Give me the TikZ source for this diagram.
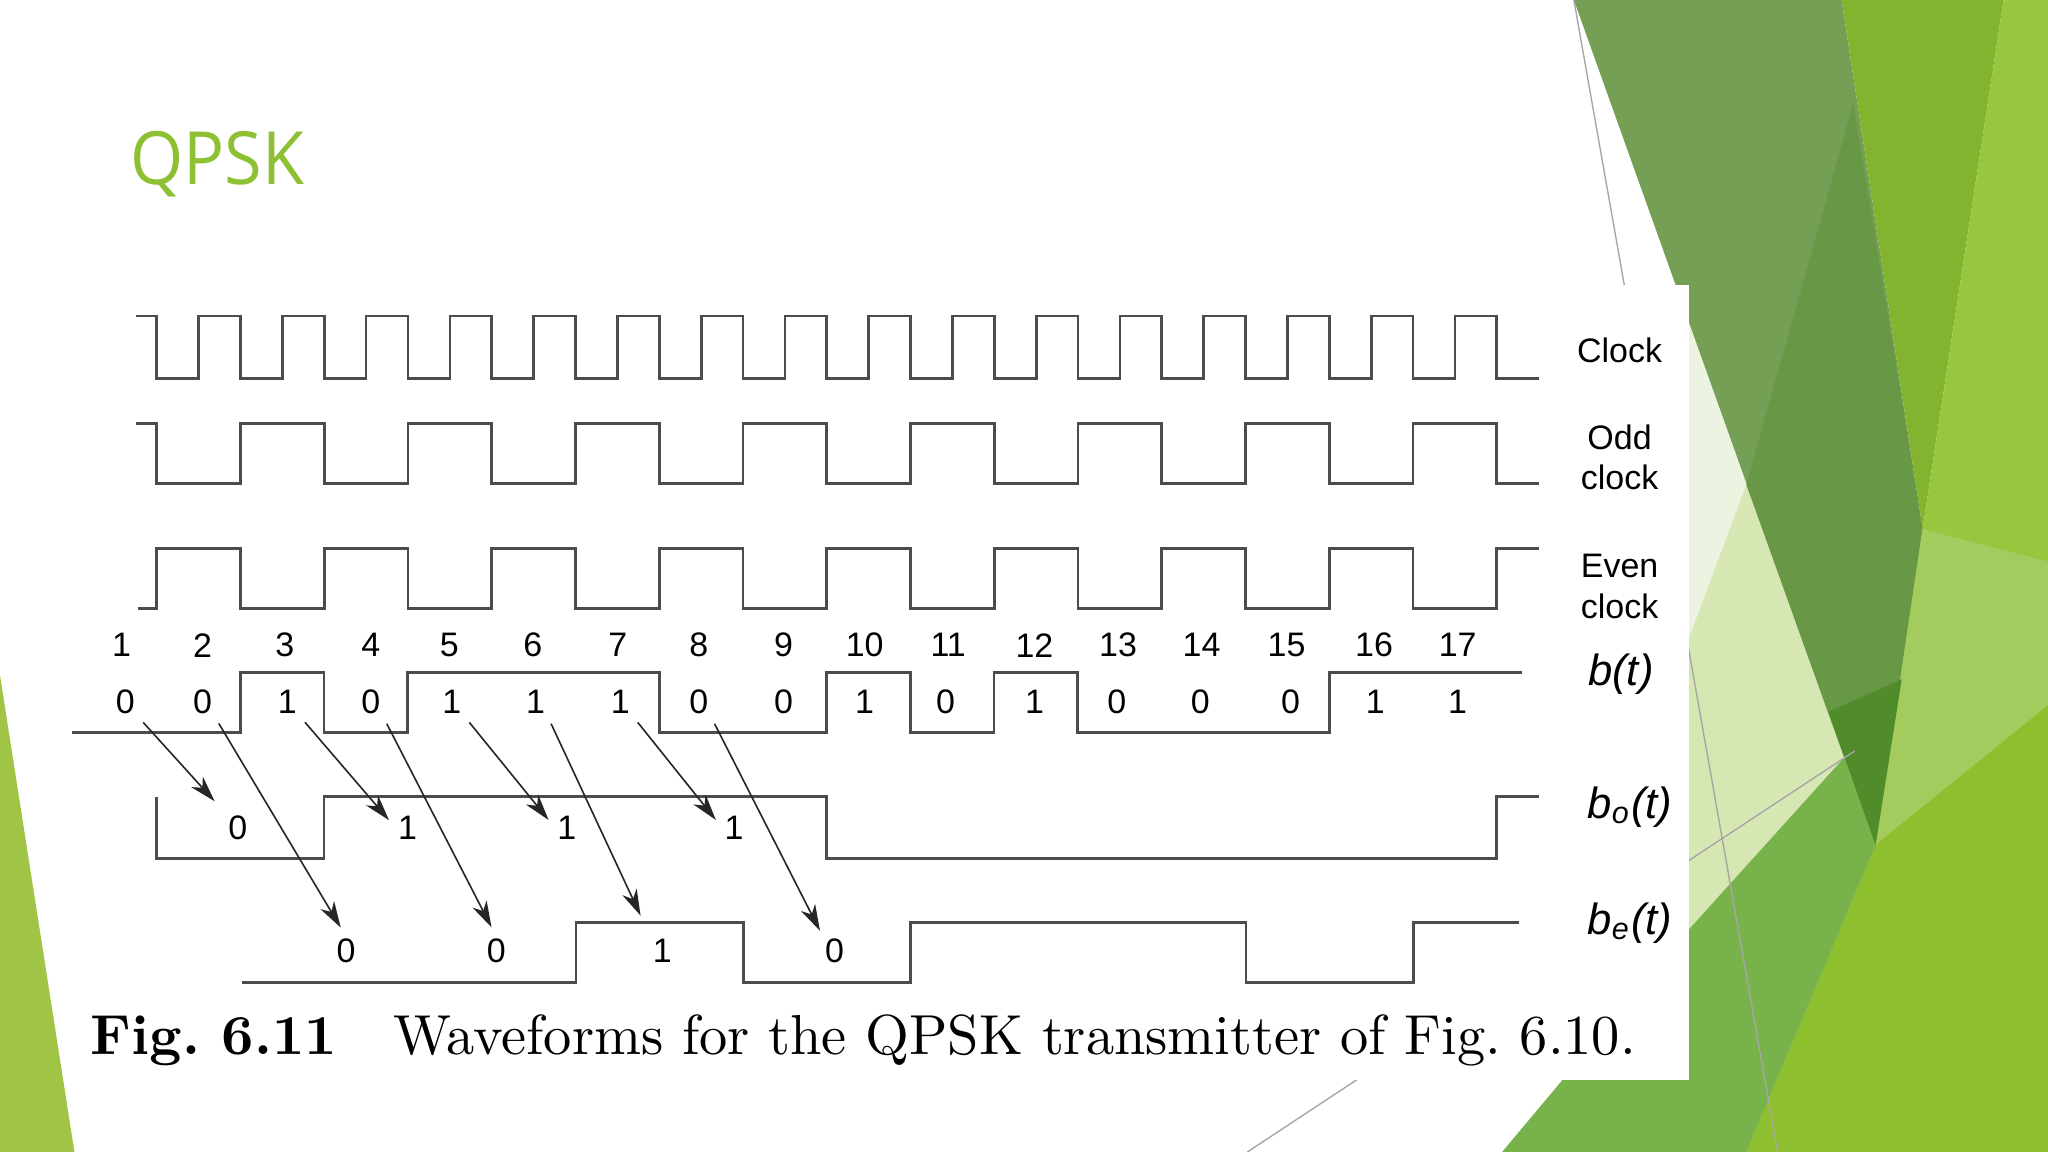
\documentclass[tikz,border=0pt]{standalone}
\usepackage{fontspec}
\usepackage{graphicx}
\usetikzlibrary{arrows.meta}
\newfontfamily\diagfont{Liberation Sans}
\newfontfamily\titlefont{Open Sans}
\definecolor{titlegreen}{RGB}{141,192,50}
\definecolor{leafmuted}{RGB}{118,159,86}
\definecolor{leafdeep}{RGB}{104,152,70}
\definecolor{leafdark}{RGB}{80,140,42}
\definecolor{leafbright}{RGB}{130,180,48}
\definecolor{leaflight}{RGB}{152,198,62}
\definecolor{leafsoft}{RGB}{163,203,94}
\definecolor{leafyellow}{RGB}{142,191,46}
\definecolor{leafmid}{RGB}{120,178,75}
\definecolor{leafpale}{RGB}{236,243,224}
\definecolor{leafpaler}{RGB}{214,231,180}
\definecolor{leafside}{RGB}{160,197,70}

\begin{document}
\begin{tikzpicture}[x=0.1mm,y=-0.1mm]
	\tikzstyle{wave}=[draw=black!70, line width=0.6pt]
	\tikzstyle{idx}=[font={\diagfont\fontsize{7.4}{9}\selectfont}, inner sep=0.1mm]
	\tikzstyle{bit}=[idx]
	\tikzstyle{lbl}=[idx, align=center, font={\diagfont\fontsize{7.4}{8.8}\selectfont}]
	\tikzstyle{sig}=[font={\diagfont\itshape\fontsize{9.5}{11}\selectfont}, inner sep=0.1mm]
	\tikzstyle{edge}=[draw=black!85, line width=0.35pt, -{Stealth[length=2mm,width=1.2mm,inset=0.6mm]}, shorten <=0.7mm]

	\useasboundingbox (0,0) rectangle (1568,882);

	% slide background
	\fill[leafside] (0,517) -- (57,882) -- (0,882) -- cycle;
	\fill[leafpale] (1293,247) -- (1436,647) -- (1290,717) -- cycle;
	\fill[leafpaler] (1337,371) -- (1436,647) -- (1290,717) -- (1293,489) -- cycle;
	\fill[leafmuted] (1205,0) -- (1410,0) -- (1472,405) -- (1436,647) -- cycle;
	\fill[leafdeep] (1419,79) -- (1472,405) -- (1436,647) -- (1337,371) -- cycle;
	\fill[leafbright] (1410,0) -- (1534,0) -- (1472,405) -- cycle;
	\fill[leaflight] (1534,0) -- (1568,0) -- (1568,882) -- (1337,882) -- (1436,647) -- (1472,405) -- cycle;
	\fill[leafsoft] (1472,405) -- (1568,430) -- (1568,540) -- (1436,647) -- cycle;
	\fill[leafyellow] (1436,647) -- (1568,540) -- (1568,882) -- (1337,882) -- cycle;
	\fill[leafmid] (1150,882) -- (1290,715) -- (1412,580) -- (1436,647) -- (1337,882) -- cycle;
	\fill[leafdark] (1400,545) -- (1456,520) -- (1436,647) -- cycle;
	\draw[black!35, line width=0.3pt] (1205,0) -- (1361,882);
	\draw[black!35, line width=0.3pt] (955,882) -- (1420,575);
	\fill[white] (48,218) rectangle (1293,827);

	\node[anchor=base west, text=titlegreen, font={\titlefont\fontsize{16}{19}\selectfont}, inner sep=0] (title) at (99,141) {\scalebox{0.93}[1]{QPSK}};

	% clock, odd clock, even clock
	\draw[wave] (104,242) -- (120,242)
		foreach \k in {0,...,15} { -- ({120+64.125*\k},290) -- ({152.06+64.125*\k},290) -- ({152.06+64.125*\k},242) -- ({184.125+64.125*\k},242) }
		-- (1146,290) -- (1178,290);
	\draw[wave] (104,324) -- (120,324) -- (120,370)
		foreach \m in {0,...,7} { -- ({184.125+128.25*\m},370) -- ({184.125+128.25*\m},324) -- ({248.25+128.25*\m},324) -- ({248.25+128.25*\m},370) }
		-- (1178,370);
	\draw[wave] (106,466) -- (120,466) -- (120,420)
		foreach \m in {0,...,7} { -- ({184.125+128.25*\m},420) -- ({184.125+128.25*\m},466) -- ({248.25+128.25*\m},466) -- ({248.25+128.25*\m},420) }
		-- (1178,420);

	% b(t), bo(t), be(t)
	\draw[wave] (55,561) -- (184,561) -- (184,515) -- (248,515) -- (248,561) -- (312,561) -- (312,515) -- (505,515) -- (505,561) -- (633,561) -- (633,515) -- (697,515) -- (697,561) -- (761,561) -- (761,515) -- (825,515) -- (825,561) -- (1018,561) -- (1018,515) -- (1165,515);
	\draw[wave] (120,610) -- (120,657) -- (248,657) -- (248,610) -- (633,610) -- (633,657) -- (1146,657) -- (1146,610) -- (1178,610);
	\draw[wave] (185,752) -- (441,752) -- (441,706) -- (569,706) -- (569,752) -- (697,752) -- (697,706) -- (954,706) -- (954,752) -- (1082,752) -- (1082,706) -- (1163,706);

	\foreach \k/\x in {1/93,2/155,3/218,4/284,5/344,6/408,7/473,8/535,9/600,10/662,11/726,12/792,13/856,14/920,15/985,16/1052,17/1116}
		\node[idx] (n\k) at (\x,494) {\k};
	\foreach \k/\x/\v in {1/96/0,2/155/0,3/220/1,4/284/0,5/346/1,6/410/1,7/475/1,8/535/0,9/600/0,10/662/1,11/724/0,12/792/1,13/855/0,14/919/0,15/988/0,16/1053/1,17/1116/1}
		\node[bit] (b\k) at (\x,537) {\v};

	\node[bit] (o1) at (182,634) {0};
	\node[bit] (o2) at (312,634) {1};
	\node[bit] (o3) at (434,634) {1};
	\node[bit] (o4) at (562,634) {1};
	\node[bit] (e1) at (265,728) {0};
	\node[bit] (e2) at (380,728) {0};
	\node[bit] (e3) at (507,728) {1};
	\node[bit] (e4) at (639,728) {0};

	\node[lbl] (clk) at (1240,268) {Clock};
	\node[lbl] (odd) at (1240,350) {Odd\\clock};
	\node[lbl] (even) at (1240,449) {Even\\clock};
	\node[sig] (bt) at (1241,516) {b(t)};
	\node[sig] (bot) at (1248,618) {b\textsubscript{o}(t)};
	\node[sig] (bet) at (1248,707) {b\textsubscript{e}(t)};

	\path[edge, shorten >=1.3mm] (b1.south east) -- (o1.north west);
	\path[edge, shorten >=0.8mm] (b2.south east) -- (e1.north);
	\path[edge, shorten >=0.8mm] (b3.south east) -- (o2.west);
	\path[edge, shorten >=0.8mm] (b4.south east) -- (e2.north);
	\path[edge, shorten >=0.8mm] (b5.south east) -- (o3.west);
	\path[edge, shorten >=1.8mm] (b6.south east) -- (e3.north west);
	\path[edge, shorten >=0.8mm] (b7.south east) -- (o4.west);
	\path[edge, shorten >=0.5mm] (b8.south east) -- (e4.north west);

	\node[anchor=base, inner sep=0, text=black] (cap) at (661,807) {\resizebox{118.3mm}{!}{\frenchspacing\textbf{Fig. 6.11}\hspace{1em}Waveforms for the QPSK transmitter of Fig.~6.10.}};
\end{tikzpicture}
\end{document}
